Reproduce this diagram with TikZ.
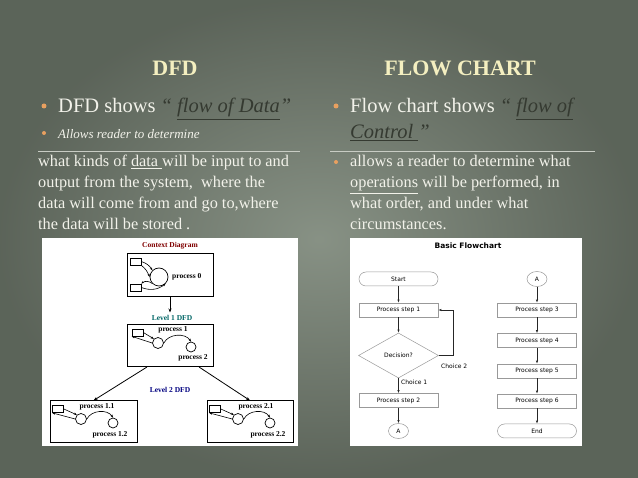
\documentclass[tikz,border=0pt]{standalone}
\usepackage{fontspec}
\setmainfont{Liberation Serif}
\newfontfamily\sansf{DejaVu Sans}
\usetikzlibrary{shapes.geometric,arrows.meta}
\definecolor{bgc}{HTML}{7A8577}
\definecolor{txt}{HTML}{F2F2EA}
\definecolor{ttl}{HTML}{F4EFC0}
\definecolor{dk}{HTML}{353A31}
\definecolor{bul}{HTML}{E8A060}
\definecolor{rl}{HTML}{C8CCC4}
\tikzset{
  body/.style={anchor=base west,text=txt,font=\fontsize{16.3}{19}\selectfont,inner sep=0pt},
  bigt/.style={anchor=base west,text=txt,font=\fontsize{20.5}{23}\selectfont,inner sep=0pt},
  title/.style={text=ttl,font=\fontsize{22}{24}\selectfont\bfseries},
  bulc/.style={fill=bul,draw=none,circle,inner sep=0pt,minimum size=5pt},
  img/.style={fill=white,draw=none},
  dbox/.style={draw=black,line width=1pt},
  tiny/.style={font=\fontsize{7.5}{8}\selectfont\bfseries,inner sep=0pt},
  store/.style={draw=black,line width=0.7pt,minimum width=11pt,minimum height=7pt,inner sep=0pt},
  proc/.style={draw=black,line width=0.7pt,circle,minimum size=11pt,inner sep=0pt},
  darr/.style={-{Stealth[length=4pt]},line width=0.8pt},
  sarr/.style={-{Stealth[length=3pt]},line width=0.6pt},
  fbox/.style={draw=gray!80,line width=0.5pt,minimum width=79pt,minimum height=14pt,inner sep=0pt,font=\sansf\fontsize{6}{7}\selectfont},
  fterm/.style={fbox,rounded corners=7pt},
  fcon/.style={draw=gray!80,line width=0.5pt,ellipse,minimum width=20pt,minimum height=15pt,inner sep=0pt,font=\sansf\fontsize{6}{7}\selectfont},
  farr/.style={-{Latex[length=3pt]},line width=0.7pt,draw=gray!30!black},
  flab/.style={font=\sansf\fontsize{6}{7}\selectfont,inner sep=0pt}
}
\begin{document}
\begin{tikzpicture}[x=1pt,y=-1pt]
\useasboundingbox (0,0) rectangle (638,478);
\shade[inner color=bgc!90!white,outer color=bgc!75!black] (0,0) rectangle (638,478);
% titles
\node[title] (t1) at (175,68) {DFD};
\node[title] (t2) at (460,68) {FLOW CHART};
% left text
\node[bulc] (b1) at (44,106) {};
\node[bigt] (l1) at (58,113) {DFD shows {\color{dk}\itshape “ \underline{flow of Data}”}};
\node[bulc,minimum size=4pt] (b2) at (44,133) {};
\node[anchor=base west,text=txt,font=\fontsize{13}{15}\selectfont\itshape,inner sep=0pt] (l2) at (58,139) {Allows reader to determine};
\draw[rl,line width=0.8pt] (38,151) -- (300,151);
\node[body] (p1) at (38,167) {what kinds of \underline{data }will be input to and};
\node[body] (p2) at (38,188) {output from the system,\ \ where the};
\node[body] (p3) at (38,209) {data will come from and go to,where};
\node[body] (p4) at (38,230) {the data will be stored .};
% right text
\node[bulc] (b3) at (336,106) {};
\node[bigt] (r1) at (350,113) {Flow chart shows {\color{dk}\itshape “ \underline{flow of}}};
\node[bigt] (r2) at (350,139) {{\color{dk}\itshape \underline{Control }”}};
\draw[rl,line width=0.8pt] (330,151) -- (595,151);
\node[bulc,minimum size=4pt] (b4) at (336,162) {};
\node[body] (q1) at (350,167) {allows a reader to determine what};
\node[body] (q2) at (350,188) {\underline{operations} will be performed, in};
\node[body] (q3) at (350,209) {what order, and under what};
\node[body] (q4) at (350,230) {circumstances.};
% ---- DFD image
\fill[img] (42,238) rectangle (298,446);
\node[tiny,text=red!50!black] (cd) at (170,246) {Context Diagram};
\node[dbox,minimum width=86pt,minimum height=43pt,inner sep=0pt] (bx1) at (170,275.5) {};
\node[store] (s1) at (135.5,261.5) {};
\node[store] (s2) at (135.5,287.5) {};
\node[proc,minimum size=18pt] (c0) at (159,277) {};
\node[tiny,anchor=west] (pr0) at (172,277) {process 0};
\draw[sarr] (s1.east) to[bend left=20] (c0.north west);
\draw[sarr] (s1.south east) to[bend left=15] (c0.west);
\draw[sarr] (c0.south west) to[bend right=40] (s2.north east);
\draw[sarr] (s2.east) to[bend right=30] (c0.south east);
\draw[darr] (bx1.south) -- ++(0,15) coordinate (a1);
\node[tiny,text=teal!80!black] (l1d) at (172,318) {Level 1 DFD};
\node[dbox,minimum width=86pt,minimum height=42pt,inner sep=0pt] (bx2) at (170,346) {};
\node[store] (s3) at (137.5,332.5) {};
\node[proc] (c1) at (158,343) {};
\node[proc,minimum size=10pt] (c2) at (191,347) {};
\node[tiny] (pr1) at (173,330) {process 1};
\node[tiny] (pr2) at (193,358) {process 2};
\draw[sarr] (s3.east) -- (c1.north west);
\draw[sarr] (c1.west) -- (s3.south west);
\draw[sarr] (c1.east) to[bend left=60] (c2.north);
\node[dbox,minimum width=87pt,minimum height=42pt,inner sep=0pt] (bx3) at (93.5,422) {};
\node[dbox,minimum width=86pt,minimum height=42pt,inner sep=0pt] (bx4) at (250,422) {};
\draw[darr] (147,367) -- (bx3.north);
\draw[darr] (199,367) -- (bx4.north);
\node[tiny,text=blue!50!black] (l2d) at (170,390) {Level 2 DFD};
\node[store] (s4) at (58,409) {};
\node[proc] (c3) at (81,419) {};
\node[proc,minimum size=10pt] (c4) at (113,423) {};
\node[tiny] (p11) at (97,407) {process 1.1};
\node[tiny] (p12) at (110,435) {process 1.2};
\draw[sarr] (s4.east) -- (c3.north west);
\draw[sarr] (c3.west) -- (s4.south west);
\draw[sarr] (c3.east) to[bend left=60] (c4.north);
\node[store] (s5) at (215,409) {};
\node[proc] (c5) at (238,419) {};
\node[proc,minimum size=10pt] (c6) at (270,423) {};
\node[tiny] (p21) at (256,407) {process 2.1};
\node[tiny] (p22) at (268,435) {process 2.2};
\draw[sarr] (s5.east) -- (c5.north west);
\draw[sarr] (c5.west) -- (s5.south west);
\draw[sarr] (c5.east) to[bend left=60] (c6.north);
% ---- flowchart image
\fill[img] (350,238) rectangle (582,446);
\node[font=\sansf\fontsize{7.5}{8}\selectfont\bfseries,inner sep=0pt] (bf) at (468,246) {Basic Flowchart};
\node[fterm] (st) at (398.5,279) {Start};
\node[fbox] (ps1) at (398.5,310) {Process step 1};
\node[diamond,draw=gray!80,line width=0.5pt,aspect=1.8,minimum width=80pt,minimum height=45pt,inner sep=0pt,font=\sansf\fontsize{6}{7}\selectfont] (dec) at (398.5,355.5) {Decision?};
\node[fbox] (ps2) at (398.5,400.5) {Process step 2};
\node[fcon] (ca) at (398.5,431) {A};
\draw[farr] (st) -- (ps1);
\draw[farr] (ps1) -- (dec);
\draw[farr] (dec) -- (ps2);
\draw[farr] (ps2) -- (ca);
\draw[farr] (dec.east) -| (453,310) -- (ps1.east);
\node[flab,anchor=west] (ch2) at (441,366) {Choice 2};
\node[flab,anchor=west] (ch1) at (401,382) {Choice 1};
\node[fcon] (cb) at (537,279) {A};
\node[fbox] (ps3) at (537,310) {Process step 3};
\node[fbox] (ps4) at (537,340.5) {Process step 4};
\node[fbox] (ps5) at (537,371) {Process step 5};
\node[fbox] (ps6) at (537,401) {Process step 6};
\node[fterm] (en) at (537,431) {End};
\draw[farr] (cb) -- (ps3);
\draw[farr] (ps3) -- (ps4);
\draw[farr] (ps4) -- (ps5);
\draw[farr] (ps5) -- (ps6);
\draw[farr] (ps6) -- (en);
\end{tikzpicture}
\end{document}
